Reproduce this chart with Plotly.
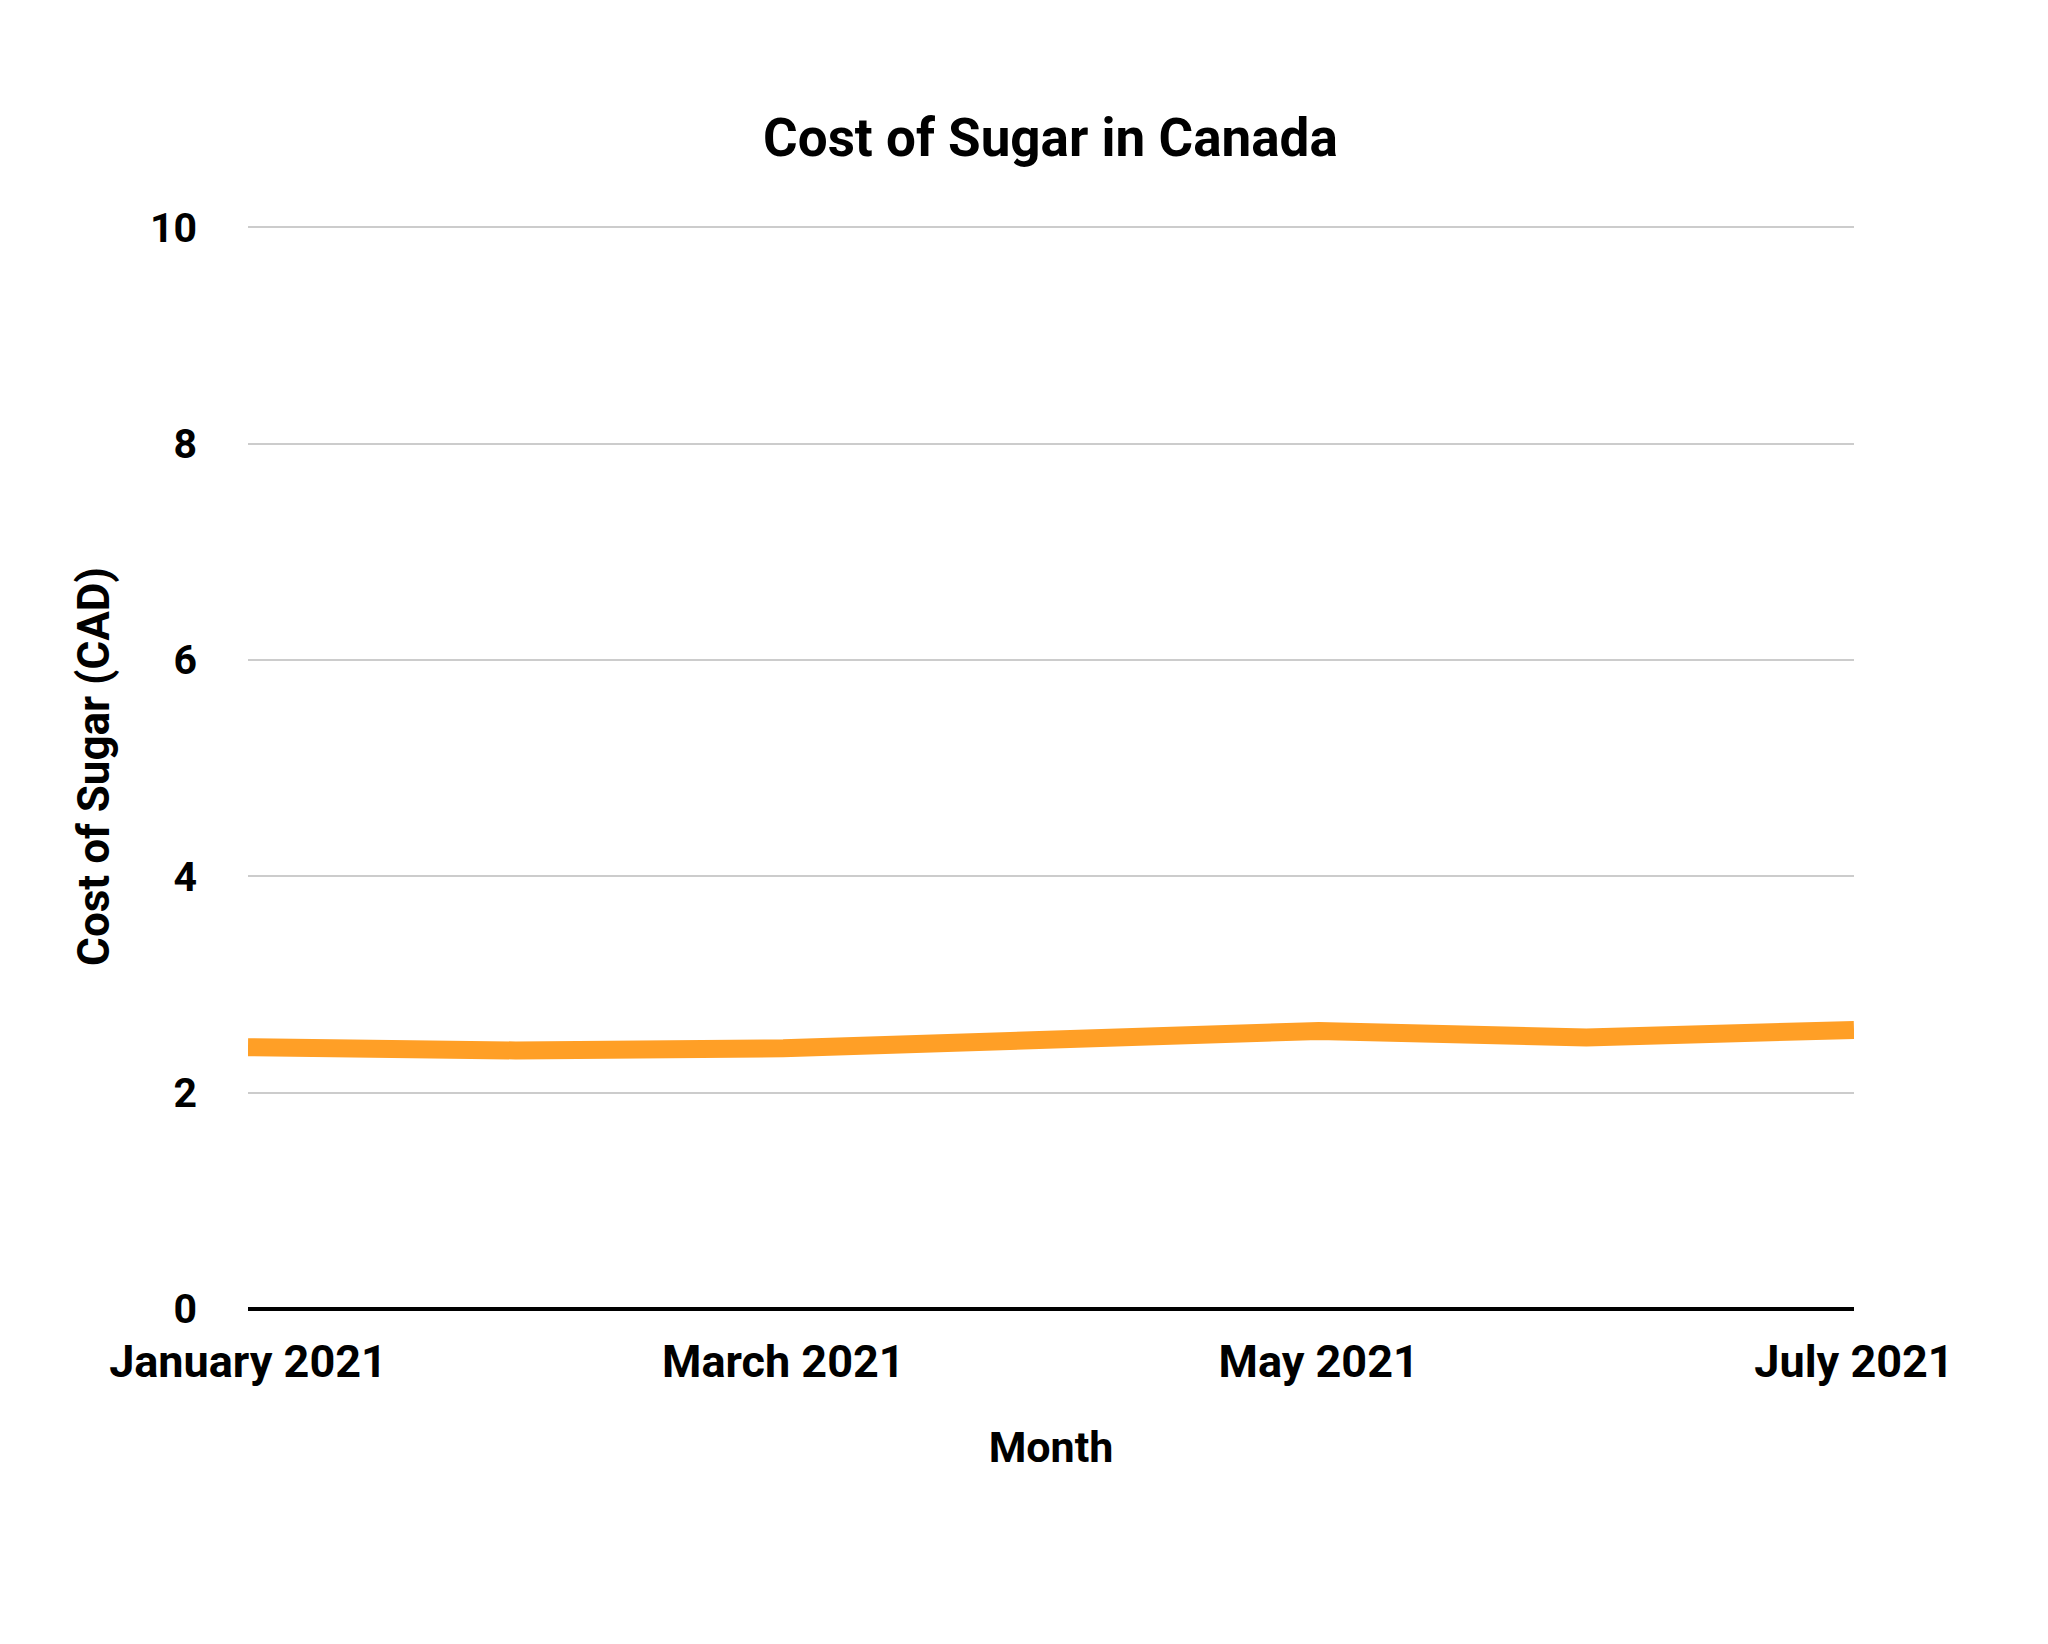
import plotly.graph_objects as go

# monthly cost of sugar
months = ["January 2021", "February 2021", "March 2021", "April 2021",
          "May 2021", "June 2021", "July 2021"]
cost_cad = [2.42, 2.39, 2.41, 2.47, 2.57, 2.51, 2.58]

shown_ticks = ["January 2021", "March 2021", "May 2021", "July 2021"]
y_ticks = [0, 2, 4, 6, 8, 10]

font_family = "Roboto"

fig = go.Figure()
fig.add_trace(go.Scatter(
    x=months, y=cost_cad, mode="lines",
    line=dict(color="#ff9f26", width=18),
    hoverinfo="x+y",
))

fig.update_layout(
    width=2048, height=1644,
    margin=dict(l=240, r=202, t=216, b=343),
    paper_bgcolor="white", plot_bgcolor="white",
    showlegend=False,
    font=dict(family=font_family, color="black"),
    title=dict(
        text="Cost of Sugar in Canada",
        x=0.509, xanchor="center", y=1 - 129 / 1644, yanchor="middle",
        font=dict(size=53, weight=700, family=font_family, color="black"),
    ),
)

fig.update_xaxes(
    type="category",
    tickvals=shown_ticks, ticktext=shown_ticks,
    showgrid=False, showline=False, zeroline=False,
    tickfont=dict(size=45, weight=700),
    ticklabelstandoff=22,
    title=dict(text="Month", font=dict(size=43, weight=700), standoff=44),
)

fig.update_yaxes(
    range=[0, 10.03], tickvals=y_ticks,
    showgrid=True, gridcolor="#cccccc", gridwidth=2,
    zeroline=True, zerolinecolor="black", zerolinewidth=4,
    showline=False,
    tickfont=dict(size=41, weight=700),
    ticklabelstandoff=50,
    title=dict(text="Cost of Sugar (CAD)", font=dict(size=44, weight=700), standoff=26),
)

fig.write_html("out.html")
